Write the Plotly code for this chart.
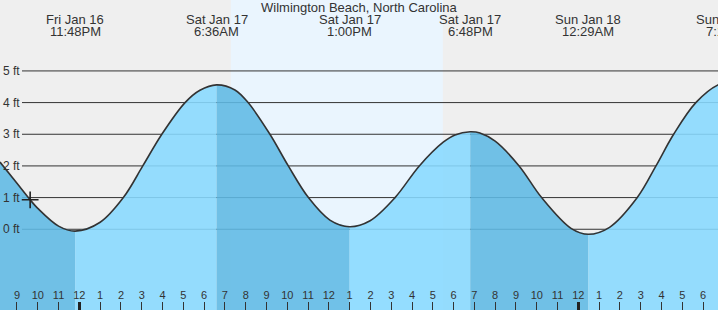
import pandas as pd
import plotly.graph_objects as go

TITLE = "Wilmington Beach, North Carolina"

# Tide extremes (high / low) shown in the header
event_times = ["2026-01-16 23:48", "2026-01-17 06:36", "2026-01-17 13:00",
               "2026-01-17 18:48", "2026-01-18 00:29", "2026-01-18 07:14"]
event_heights = [-0.06, 4.56, 0.08, 3.08, -0.16, 4.63]
event_days = ["Fri Jan 16", "Sat Jan 17", "Sat Jan 17", "Sat Jan 17", "Sun Jan 18", "Sun Jan 18"]
event_clock = ["11:48PM", "6:36AM", "1:00PM", "6:48PM", "12:29AM", "7:14AM"]

# Tide curve (ft)
curve_times = [
    "2026-01-16 20:11", "2026-01-16 21:00", "2026-01-16 21:38", "2026-01-16 22:00",
    "2026-01-16 23:00", "2026-01-16 23:48",
    "2026-01-17 01:00", "2026-01-17 02:07", "2026-01-17 03:03", "2026-01-17 03:58",
    "2026-01-17 05:05", "2026-01-17 05:48", "2026-01-17 06:36",
    "2026-01-17 07:29", "2026-01-17 08:07", "2026-01-17 09:10", "2026-01-17 10:03",
    "2026-01-17 11:01", "2026-01-17 12:03", "2026-01-17 13:00",
    "2026-01-17 13:59", "2026-01-17 15:11", "2026-01-17 16:21", "2026-01-17 17:30",
    "2026-01-17 18:04", "2026-01-17 18:48",
    "2026-01-17 19:16", "2026-01-17 20:00", "2026-01-17 21:09", "2026-01-17 22:14",
    "2026-01-17 23:40", "2026-01-18 00:29",
    "2026-01-18 01:30", "2026-01-18 02:50", "2026-01-18 03:44", "2026-01-18 04:35",
    "2026-01-18 05:39", "2026-01-18 06:43", "2026-01-18 07:14",
]
curve_heights = [
    2.12, 1.45, 0.93, 0.66,
    0.10, -0.06,
    0.22, 1.00, 2.00, 3.00,
    4.00, 4.39, 4.56,
    4.40, 4.00, 3.00, 2.00,
    1.00, 0.29, 0.08,
    0.27, 1.00, 2.00, 2.75,
    2.98, 3.08,
    3.04, 2.78, 2.00, 1.00,
    0.02, -0.16,
    0.06, 1.00, 2.00, 3.00,
    4.00, 4.56, 4.63,
]

now_time = "2026-01-16 21:38"
now_height = 0.93

daylight_start = "2026-01-17 07:17"
daylight_end = "2026-01-17 17:29"

view_start = "2026-01-16 20:11"
view_end = "2026-01-18 06:43"
height_min, height_max = -2.55, 7.24

height_ticks = [0, 1, 2, 3, 4, 5]
height_labels = ["0 ft", "1 ft", "2 ft", "3 ft", "4 ft", "5 ft"]

hour_ticks = pd.date_range("2026-01-16 21:00", "2026-01-18 06:00", freq="h")
hour_labels = ["9", "10", "11", "12", "1", "2", "3", "4", "5", "6", "7", "8", "9", "10", "11",
               "12", "1", "2", "3", "4", "5", "6", "7", "8", "9", "10", "11",
               "12", "1", "2", "3", "4", "5", "6"]
midnight_ticks = ["2026-01-17 00:00", "2026-01-18 00:00"]

W, H = 718, 310
FONT = "Liberation Sans, Arial, sans-serif"
TXT = "#333333"
NIGHT_BG = "#efefef"
DAY_BG = "#eaf5fe"
RISE_FILL = "rgba(136,217,255,0.88)"
FALL_FILL = "rgba(95,186,229,0.88)"

fig = go.Figure()

# Fill segments between consecutive extremes
split_idx = [0] + [curve_times.index(t) for t in event_times] + [len(curve_times) - 1]
split_idx = sorted(set(split_idx))
for a, b in zip(split_idx[:-1], split_idx[1:]):
    xs = curve_times[a:b + 1]
    ys = curve_heights[a:b + 1]
    color = RISE_FILL if ys[-1] > ys[0] else FALL_FILL
    fig.add_trace(go.Scatter(x=xs, y=[height_min - 0.1] * len(xs), mode="lines",
                             line=dict(width=0), hoverinfo="skip", showlegend=False))
    fig.add_trace(go.Scatter(x=xs, y=ys, mode="lines", fill="tonexty", fillcolor=color,
                             line=dict(width=0, shape="spline"), hoverinfo="skip",
                             showlegend=False))

# Tide curve
fig.add_trace(go.Scatter(x=curve_times, y=curve_heights, mode="lines",
                         line=dict(color="#333333", width=1.6, shape="spline"),
                         hoverinfo="skip", showlegend=False))

# Current time marker (on overlay axis so midnight ticks are drawn)
fig.add_trace(go.Scatter(x=[now_time], y=[now_height], mode="markers", xaxis="x2",
                         marker=dict(symbol="cross-thin", size=12,
                                     line=dict(color="#222222", width=1.6)),
                         hoverinfo="skip", showlegend=False))

shapes = [dict(type="rect", xref="x", yref="y domain", x0=daylight_start, x1=daylight_end,
               y0=0, y1=1, fillcolor=DAY_BG, line=dict(width=0), layer="below")]
for v in height_ticks:
    shapes.append(dict(type="line", xref="x domain", yref="y", x0=22 / W, x1=1, y0=v, y1=v,
                       line=dict(color="#333333", width=1), layer="below"))

annotations = [dict(text=TITLE, xref="paper", yref="paper", x=0.5, y=1 - 8 / H,
                    xanchor="center", yanchor="middle", showarrow=False,
                    font=dict(family=FONT, size=13, color=TXT))]

# Height labels
for v, lab in zip(height_ticks, height_labels):
    annotations.append(dict(text=lab, xref="paper", yref="y", x=0, y=v, xanchor="left",
                            yanchor="middle", xshift=1, showarrow=False,
                            font=dict(family=FONT, size=12, color=TXT)))

t0 = pd.Timestamp(view_start)
t1 = pd.Timestamp(view_end)
px_per_hour = W / ((t1 - t0).total_seconds() / 3600)
for t, d, c in zip(event_times, event_days, event_clock):
    ts = pd.Timestamp(t)
    xshift = 0
    xpos = t
    if ts > t1:
        xshift = (ts - t1).total_seconds() / 3600 * px_per_hour
        xpos = view_end
    for txt, yy in ((d, 19.5), (c, 31.5)):
        annotations.append(dict(text=txt, xref="x", yref="paper", x=xpos, xshift=xshift,
                                y=1 - yy / H, xanchor="center", yanchor="middle",
                                showarrow=False, font=dict(family=FONT, size=13, color=TXT)))

fig.update_layout(
    width=W, height=H, margin=dict(l=0, r=0, t=0, b=0),
    paper_bgcolor=NIGHT_BG, plot_bgcolor=NIGHT_BG,
    font=dict(family=FONT, color=TXT),
    shapes=shapes, annotations=annotations,
    xaxis=dict(type="date", range=[view_start, view_end], showgrid=False, zeroline=False,
               showline=False, tickmode="array", tickvals=hour_ticks, ticktext=hour_labels,
               ticks="inside", ticklen=8, tickwidth=1, tickcolor="#333333",
               ticklabelposition="inside", tickfont=dict(family=FONT, size=11, color=TXT)),
    xaxis2=dict(type="date", range=[view_start, view_end], overlaying="x", anchor="y",
                showgrid=False, zeroline=False, showline=False, tickmode="array",
                tickvals=midnight_ticks, ticks="inside", ticklen=8, tickwidth=3,
                tickcolor="#222222", showticklabels=False),
    yaxis=dict(range=[height_min, height_max], showgrid=False, zeroline=False,
               showline=False, showticklabels=False, ticks=""),
    showlegend=False,
)

fig.write_html("out.html", config={"displayModeBar": False})
